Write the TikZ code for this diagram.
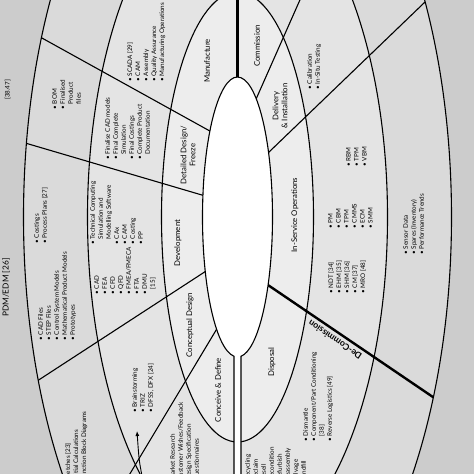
\documentclass[tikz,border=0pt]{standalone}
\usepackage{fontspec}
\setmainfont{Lato}
\usetikzlibrary{arrows.meta}
\definecolor{rfour}{gray}{0.80}
\definecolor{rthree}{gray}{0.855}
\definecolor{rtwo}{gray}{0.895}
\definecolor{rone}{gray}{0.93}
\newcommand{\bu}{\textbullet\ }
\newcommand{\ind}{\hphantom{\textbullet\ }}
\begin{document}
\begin{tikzpicture}[x=1pt,y=-1pt,
  ring/.style={draw=black,line width=1.1pt},
  sepline/.style={draw=black,line width=1.1pt},
  thicksep/.style={draw=black,line width=2.4pt},
  stage/.style={rotate=90,font=\fontsize{7.8}{9}\selectfont,align=center,inner sep=0},
  lst/.style={rotate=90,anchor=north west,align=left,font=\fontsize{6.3}{8}\selectfont,inner sep=0},
]
\useasboundingbox (0,0) rectangle (474,474);
\clip (0,0) rectangle (474,474);
\coordinate (C) at (237.5,217);
\fill[rfour] (0,0) rectangle (474,474);
\fill[rthree] (C) ellipse [x radius=214, y radius=447];
\fill[rtwo] (C) ellipse [x radius=150, y radius=338];
\fill[rone] (C) ellipse [x radius=76, y radius=225];
\draw[ring] (C) ellipse [x radius=214, y radius=447];
\draw[ring] (C) ellipse [x radius=150, y radius=338];
\draw[ring] (C) ellipse [x radius=76, y radius=225];
\begin{scope}
\clip (C) ellipse [x radius=214, y radius=447];
\coordinate (l1a) at (225,139.4);  \coordinate (l1b) at (30,31.4);
\coordinate (l2a) at (225,201.8);  \coordinate (l2b) at (15,140);
\coordinate (l3a) at (225,258.7);  \coordinate (l3b) at (25,388.9);
\coordinate (l4a) at (228,310.3);  \coordinate (l4b) at (125,482);
\coordinate (va) at (237.5,100);   \coordinate (vb) at (237.5,-5);
\coordinate (r1a) at (250,112.8); \coordinate (r1b) at (303,-7);
\coordinate (r2a) at (250,170.3); \coordinate (r2b) at (440,-12.4);
\coordinate (r3a) at (250,272.8); \coordinate (r3b) at (450,408.6);
\draw[sepline] (l1a) -- (l1b);
\draw[sepline] (l2a) -- (l2b);
\draw[sepline] (l3a) -- (l3b);
\draw[sepline] (l4a) -- (l4b);
\draw[sepline] (r1a) -- (r1b);
\draw[sepline] (r2a) -- (r2b);
\draw[thicksep] (va) -- (vb);
\draw[thicksep] (r3a) -- (r3b);
\end{scope}
% inner white glass shape
\fill[white] (234,480) -- (234,356.3) arc[start angle=95.74,end angle=444.26,x radius=35,y radius=140] -- (241,480) -- cycle;
\draw[ring] (234,480) -- (234,356.3) arc[start angle=95.74,end angle=444.26,x radius=35,y radius=140] -- (241,480);
% arrow
\coordinate (arrS) at (142,476);
\coordinate (arrE) at (137,431);
\draw[line width=0.9pt,-{Latex[length=5pt,width=4pt]}] (arrS) .. controls (139,460) .. (arrE);
% stage labels
\node[stage] (manu) at (207,61) {Manufacture};
\node[stage] (comm) at (257,46) {Commission};
\node[stage] (ddf) at (188,155) {Detailed Design/\\Freeze};
\node[stage] (dev) at (178,243) {Development};
\node[stage] (cd) at (190,325) {Conceptual Design};
\node[stage] (ced) at (218,390) {Conceive \& Define};
\node[stage] (disp) at (272,362) {Disposal};
\node[stage] (iso) at (295,215) {In-Service Operations};
\node[stage] (del) at (280,106) {Delivery\\\& Installation};
\node[rotate=146,font=\bfseries\fontsize{8.8}{10}\selectfont,inner sep=0] (decom) at (335,340) {De-Commission};
% lists
\node[lst] (scada) at (127,81.5) {\bu SCADA [29]\\\bu CAM\\\bu Assembly\\\bu Quality Assurance\\\bu Manufacturing Operations};
\node[lst] (fin) at (105,160) {\bu Finalise CAD models\\\bu Final Complete\\\ind Simulation\\\bu Final Costings\\\bu Complete Product\\\ind Documentation};
\node[lst] (bom) at (52,109.5) {\bu BOM\\\bu Finalised\\\ind Product\\\ind files};
\node[lst] (tech) at (90,244.5) {\bu Technical Computing\\\ind Simulation and\\\ind Modelling Software\\\bu CAx\\\bu CAM\\\bu Costing\\\bu PP};
\node[lst] (cad) at (94,294.5) {\bu CAD\\\bu FEA\\\bu CFD\\\bu QFD\\\bu FMEA/FMECA\\\bu FTA\\\bu DMU\\\ind [15]};
\node[lst] (cost) at (34,243.5) {\bu Costings\\\bu Process Plans [27]};
\node[lst] (cadf) at (38,340.5) {\bu CAD Files\\\bu STEP Files\\\bu Control System Models\\\bu Mathematical Product Models\\\bu Prototypes};
\node[lst] (brain) at (132,412.5) {\bu Brainstorming\\\bu TRIZ\\\bu DFSS, DFX [24]};
\node[lst] (mkt) at (170,486) {\bu Market Research\\\bu Customer Wishes/Feedback\\\bu Design Specification\\\bu Questionnaires};
\node[lst] (sk) at (65,486) {\bu Sketches [23]\\\bu Initial Calculations\\\bu Function Block Diagrams};
\node[lst] (rec) at (245,486) {\bu Recycling\\\bu Reclaim\\\bu Resell\\\bu Recondition\\\bu Refurbish\\\bu Reassembly\\\bu Salvage\\\bu Landfill};
\node[lst] (dism) at (303,441.5) {\bu Dismantle\\\bu Component/Part Conditioning\\\ind [38]\\\bu Reverse Logistics [49]};
\node[lst] (pm) at (328,228.5) {\bu PM\\\bu CBM\\\bu TPM\\\bu CMMS\\\bu ECM\\\bu SMM};
\node[lst] (rbm) at (346,166.5) {\bu RBM\\\bu TPM\\\bu VBM};
\node[lst] (ndt) at (328,293.5) {\bu NDT [34]\\\bu EHM [35]\\\bu SHM [36]\\\bu CM [37]\\\bu MRO [48]};
\node[lst] (sens) at (403,254.5) {\bu Sensor Data\\\bu Spares (Inventory)\\\bu Performance Trends};
\node[lst] (cal) at (307,89.5) {\bu Calibration\\\bu In-Situ Testing};
\node[rotate=90,anchor=north west,inner sep=0,font=\fontsize{8.3}{10}\selectfont] (pdm) at (2,317) {PDM/EDM [26]};
\node[lst] (refs) at (4.5,100) {[38.47]};
\end{tikzpicture}
\end{document}
